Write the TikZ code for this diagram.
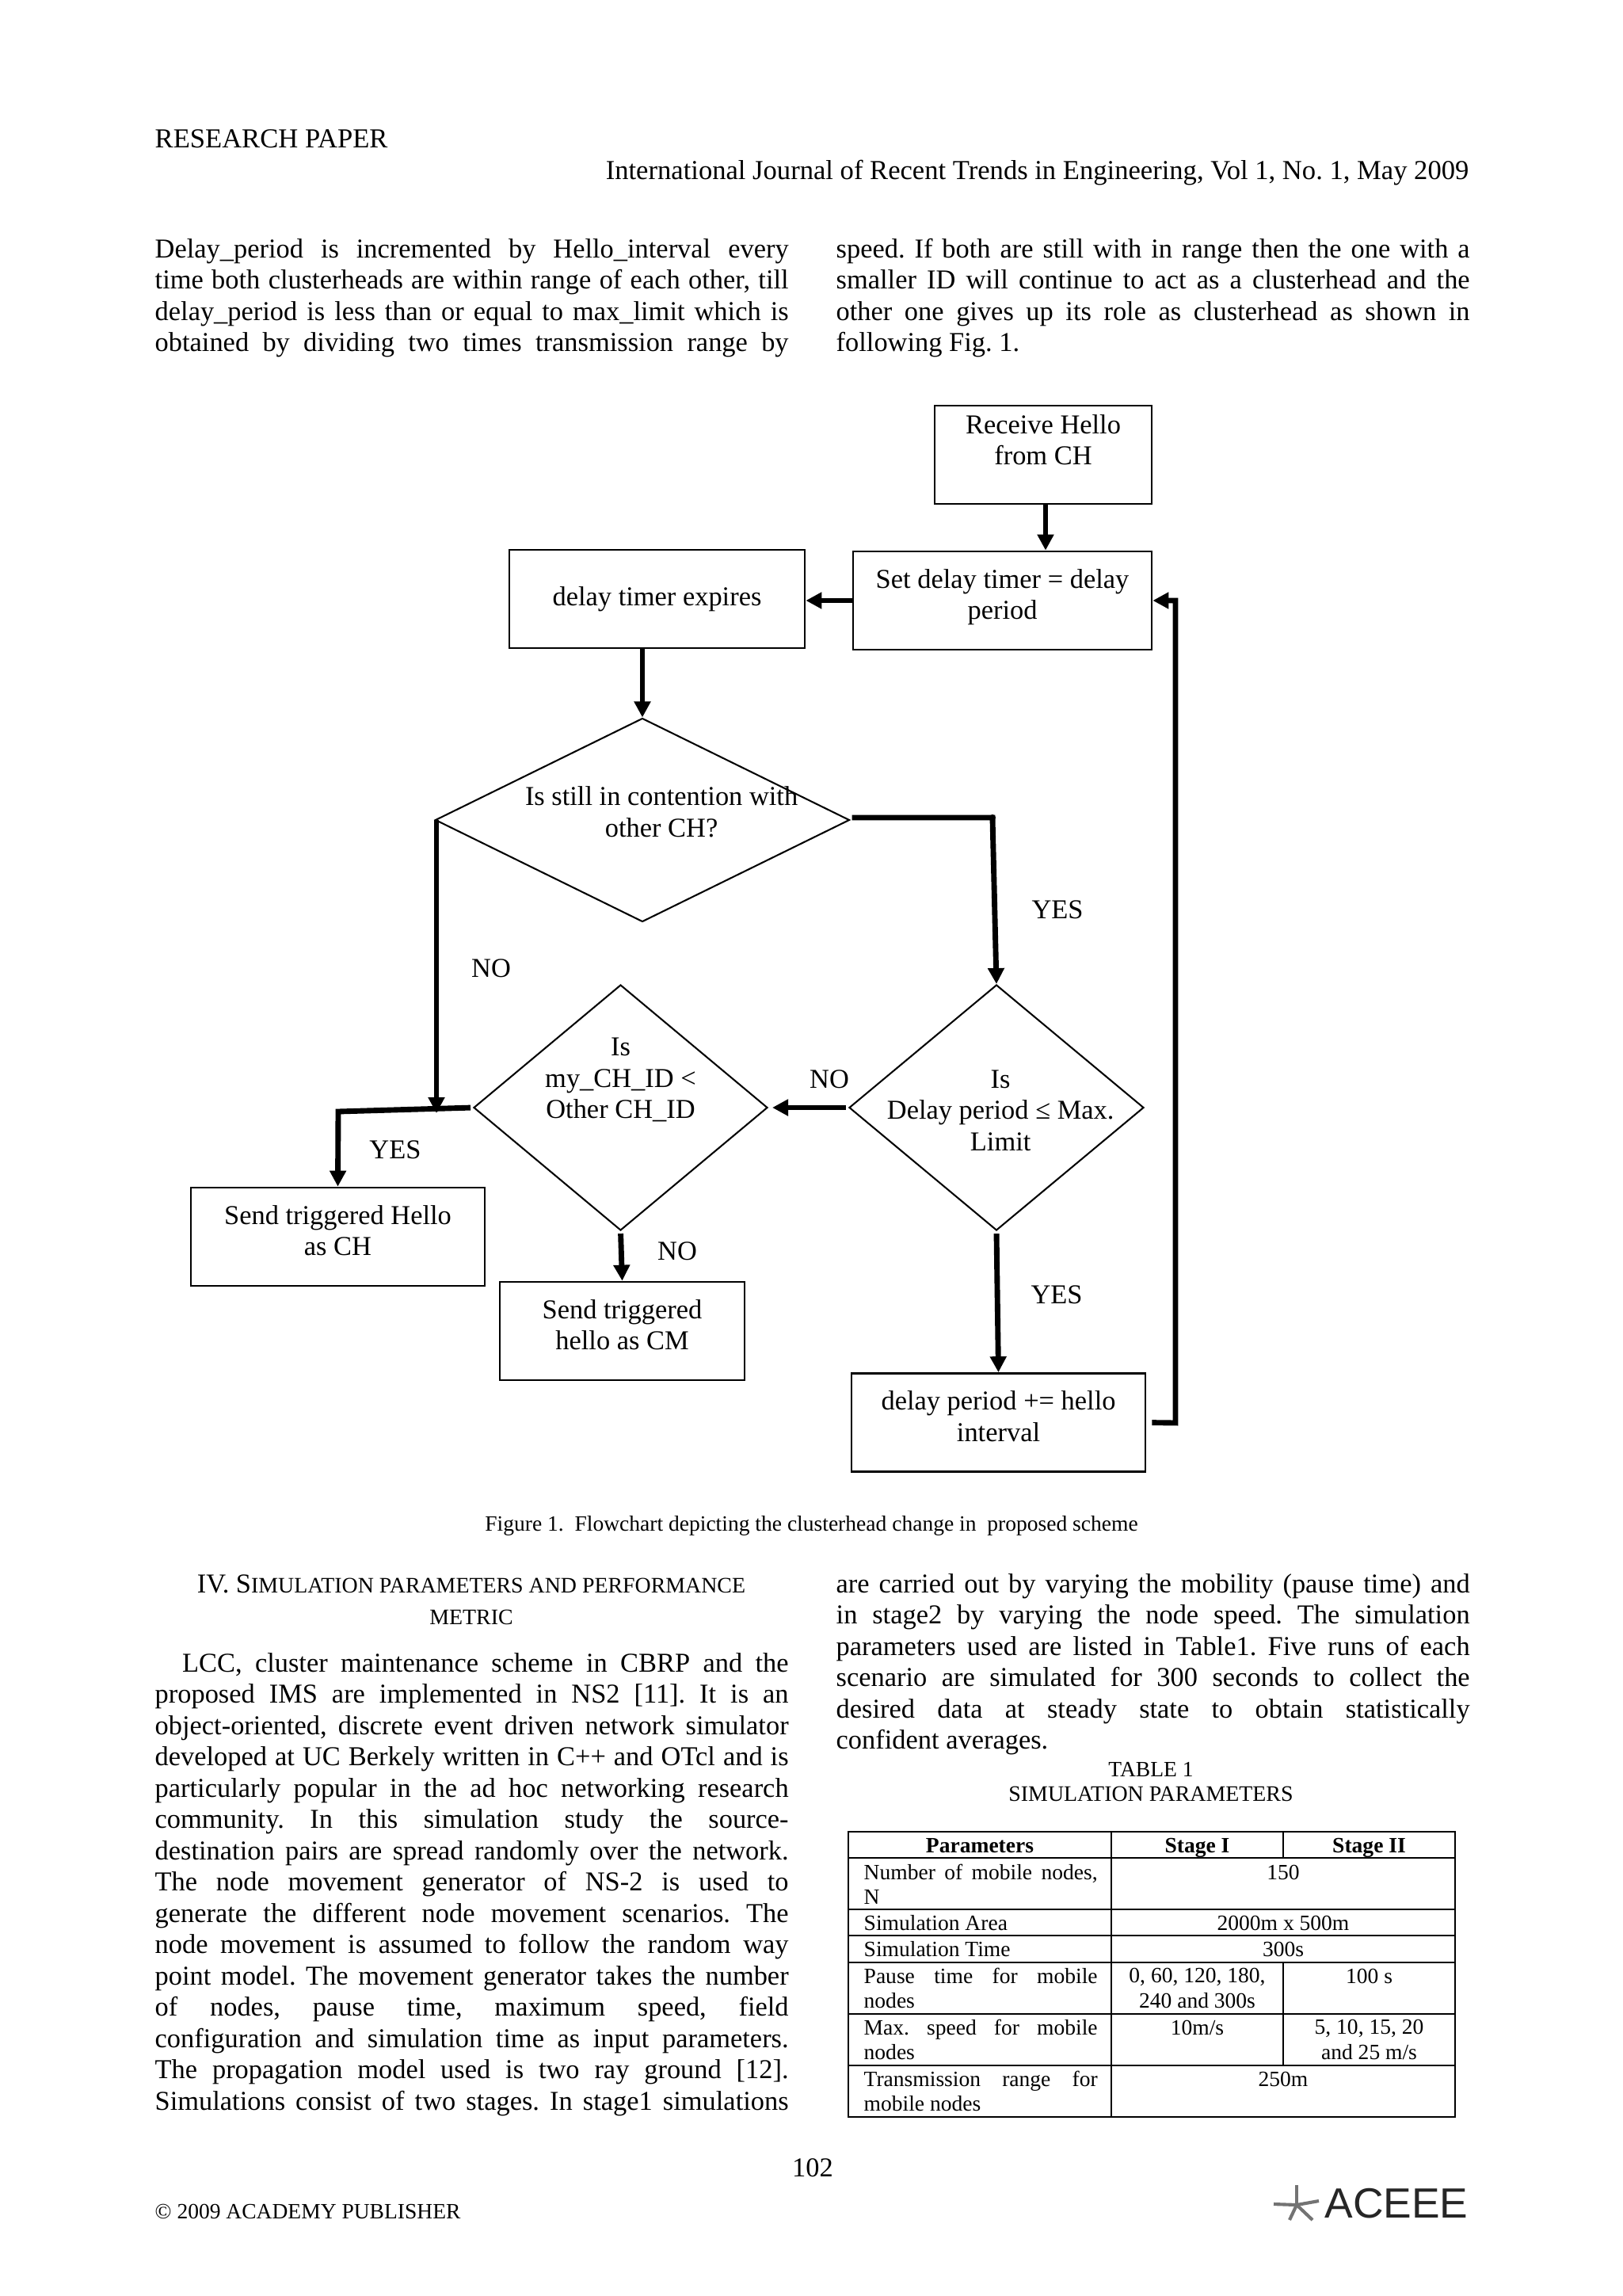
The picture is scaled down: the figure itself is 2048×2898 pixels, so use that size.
\documentclass[tikz,border=0pt]{standalone}
\usepackage{fontspec}
\usetikzlibrary{arrows.meta,shapes.geometric}
\setmainfont{Liberation Serif}
\newfontfamily\logofont{Liberation Sans}
\def\pxu{0.29053bp}
\newcommand{\bodyfont}{\fontsize{10bp}{11.48bp}\selectfont}
\newcommand{\tablefont}{\fontsize{8bp}{9.15bp}\selectfont}
\newcommand{\headfont}{\fontsize{8.1bp}{9.15bp}\selectfont}
\newcommand{\topfont}{\fontsize{10.05bp}{11.48bp}\selectfont}
\newcommand{\inside}[3]{\smash{\kern#1\makebox[0pt]{\raisebox{#2}{\begin{tabular}{@{}c@{}}#3\end{tabular}}}\kern-#1}}
\frenchspacing

\begin{document}
\begin{tikzpicture}[x=0.29053bp,y=-0.29053bp,
 every node/.style={inner sep=0pt,font=\bodyfont},
 column/.style={anchor=base west,text width=232.4bp,align=justify},
 line/.style={anchor=base},
 flowbox/.style={draw,line width=.8bp,minimum height=124*\pxu,align=center,text depth=4.5bp},
 decision/.style={diamond,draw,line width=.6bp,aspect=1},
 flow/.style={line width=2bp,-{Triangle[length=20*\pxu,width=20*\pxu]}},
 flowlabel/.style={anchor=center},
 cell/.style={anchor=base,font=\tablefont,align=center},
 leftcell/.style={anchor=base west,font=\tablefont,text width=85.7bp,align=justify},
 tablerule/.style={line width=.7bp}]
\useasboundingbox (0,0) rectangle (2048,2898);

\node[anchor=base west,font=\topfont] (paper) at (195,186) {RESEARCH PAPER};
\node[anchor=base east,font=\topfont] (journal) at (1855,226) {International Journal of Recent Trends in Engineering, Vol 1, No. 1, May 2009};

\node[column] (topleft) at (195,325) {Delay\_period is incremented by Hello\_interval every\linebreak
time both clusterheads are within range of each other, till\linebreak
delay\_period is less than or equal to max\_limit which is\linebreak
obtained by dividing two times transmission range by\parfillskip=0pt\par};
\node[column] (topright) at (1055,325) {speed. If both are still with in range then the one with a\linebreak
smaller ID will continue to act as a clusterhead and the\linebreak
other one gives up its role as clusterhead as shown in\linebreak
following Fig. 1.};

\node[flowbox,text depth=11bp,minimum width=274*\pxu] (receive) at (1317,574) {Receive Hello\\from CH};
\node[flowbox,minimum width=377*\pxu] (setdelay) at (1265.5,758) {Set delay timer = delay\\period};
\node[flowbox,text depth=2bp,minimum width=373*\pxu] (timer) at (829.5,756) {delay timer expires};
\node[decision,minimum width=523*\pxu,minimum height=257*\pxu] (contention) at (811,1035) {\inside{7bp}{-0.7bp}{Is still in contention with\\other CH?}};
\node[decision,minimum width=372*\pxu,minimum height=310*\pxu] (delaycheck) at (1258,1398) {\inside{1.5bp}{-4.5bp}{Is\\Delay period ≤ Max.\\Limit}};
\node[decision,minimum width=371*\pxu,minimum height=310*\pxu] (idcheck) at (783.5,1398) {\inside{0bp}{7.3bp}{Is\\my\_CH\_ID <\\Other CH\_ID}};
\node[flowbox,minimum width=371*\pxu] (sendch) at (426.5,1561) {Send triggered Hello\\as CH};
\node[flowbox,minimum width=309*\pxu] (sendcm) at (785.5,1680) {Send triggered\\hello as CM};
\node[flowbox,minimum width=371*\pxu] (increment) at (1260.5,1795.5) {delay period += hello\\interval};

\node[flowlabel] (yestop) at (1335,1148) {YES};
\node[flowlabel] (notop) at (620,1222) {NO};
\node[flowlabel] (nomid) at (1047,1362) {NO};
\node[flowlabel] (yesleft) at (499,1451) {YES};
\node[flowlabel] (nolow) at (855,1579) {NO};
\node[flowlabel] (yeslow) at (1334,1634) {YES};

\coordinate (yesbend) at (1253,1032);
\coordinate (nojoin) at (551,1405);
\coordinate (chbend) at (427,1403);
\coordinate (returnbend) at (1484,1796);

\draw[flow] ([xshift=3*\pxu]receive.south) -- ([xshift=3*\pxu]receive.south |- setdelay.north);
\draw[flow] (setdelay.west) -- (setdelay.west -| timer.east);
\draw[flow] (contention.north |- timer.south) -- (contention.north);
\draw[flow,shorten <=2*\pxu] (contention.east |- yesbend) -- (yesbend) -- (delaycheck.north);
\draw[flow] (contention.west -| nojoin) -- (nojoin);
\draw[flow,shorten <=3*\pxu,shorten >=5*\pxu] (delaycheck.west) -- (idcheck.east);
\draw[flow,shorten <=3*\pxu] (idcheck.west) -- (chbend) -- (sendch.north);
\draw[flow,shorten <=3*\pxu] (idcheck.south) -- (sendcm.north);
\draw[flow,shorten <=3*\pxu] (delaycheck.south) -- (increment.north);
\draw[flow,shorten <=7*\pxu] (increment.east) -- (returnbend) -- (returnbend |- setdelay.east) -- (setdelay.east);
\fill (yesbend) circle (4);

\node[line] (caption) at (1024.5,1932) {\tablefont Figure 1.\ \ Flowchart depicting the clusterhead change in\ \ proposed scheme};

\node[line] (heading) at (595,2010) {IV. S{\headfont IMULATION PARAMETERS AND PERFORMANCE}};
\node[line] (headingtwo) at (595,2050) {\headfont METRIC};

\node[column] (lowerleft) at (195,2110) {\hspace*{10bp}LCC, cluster maintenance scheme in CBRP and the\linebreak
proposed IMS are implemented in NS2 [11]. It is an\linebreak
object-oriented, discrete event driven network simulator\linebreak
developed at UC Berkely written in C++ and OTcl and is\linebreak
particularly popular in the ad hoc networking research\linebreak
community. In this simulation study the source-\linebreak
destination pairs are spread randomly over the network.\linebreak
The node movement generator of NS-2 is used to\linebreak
generate the different node movement scenarios. The\linebreak
node movement is assumed to follow the random way\linebreak
point model. The movement generator takes the number\linebreak
of nodes, pause time, maximum speed, field\linebreak
configuration and simulation time as input parameters.\linebreak
The propagation model used is two ray ground [12].\linebreak
Simulations consist of two stages. In stage1 simulations\parfillskip=0pt\par};
\node[column] (lowerright) at (1055,2010) {are carried out by varying the mobility (pause time) and\linebreak
in stage2 by varying the node speed. The simulation\linebreak
parameters used are listed in Table1. Five runs of each\linebreak
scenario are simulated for 300 seconds to collect the\linebreak
desired data at steady state to obtain statistically\linebreak
confident averages.};

\node[line] (tabletitle) at (1453,2242) {\tablefont TABLE 1};
\node[line] (tablename) at (1453,2273) {\headfont SIMULATION PARAMETERS};

\draw[tablerule] (1071,2312) rectangle (1837,2672);
\foreach \y in {2345,2410,2443,2477,2542,2607}
 \draw[tablerule] (1071,\y) -- (1837,\y);
\draw[tablerule] (1403,2312) -- (1403,2672);
\draw[tablerule] (1620,2312) -- (1620,2345) (1620,2477) -- (1620,2607);

\node[cell] (parameters) at (1237,2338) {\textbf{Parameters}};
\node[cell] (stageone) at (1511.5,2338) {\textbf{Stage I}};
\node[cell] (stagetwo) at (1728.5,2338) {\textbf{Stage II}};
\node[leftcell] (nodes) at (1090,2372) {Number of mobile nodes,\linebreak N};
\node[cell] (nodesval) at (1620,2372) {150};
\node[leftcell] (area) at (1090,2436) {Simulation Area};
\node[cell] (areaval) at (1620,2436) {2000m x 500m};
\node[leftcell] (time) at (1090,2469) {Simulation Time};
\node[cell] (timeval) at (1620,2469) {300s};
\node[leftcell] (pause) at (1090,2503) {Pause time for mobile\linebreak nodes};
\node[cell] (pauseone) at (1511.5,2534) {0, 60, 120, 180,\\240 and 300s};
\node[cell] (pausetwo) at (1728.5,2503) {100 s};
\node[leftcell] (speed) at (1090,2568) {Max. speed for mobile\linebreak nodes};
\node[cell] (speedone) at (1511.5,2568) {10m/s};
\node[cell] (speedtwo) at (1728.5,2599) {5, 10, 15, 20\\and 25 m/s};
\node[leftcell] (range) at (1090,2633) {Transmission range for\linebreak mobile nodes};
\node[cell] (rangeval) at (1620,2633) {250m};

\node[line] (pagenumber) at (1026,2747) {102};
\node[anchor=base west] (copyright) at (195,2800) {\fontsize{8bp}{10bp}\selectfont © 2009 ACADEMY PUBLISHER};

\coordinate (logostar) at (1637,2783);
\foreach \dx/\dy in {0/-25,-29/-1,28/-5,-9/19,20/19}
 \draw[line width=1.2bp,black!55] (logostar) -- ++(\dx,\dy);
\node[anchor=base west,font=\logofont\fontsize{15.5bp}{17bp}\selectfont,text=black!85] (logo) at (1672,2799) {ACEEE};
\end{tikzpicture}
\end{document}
